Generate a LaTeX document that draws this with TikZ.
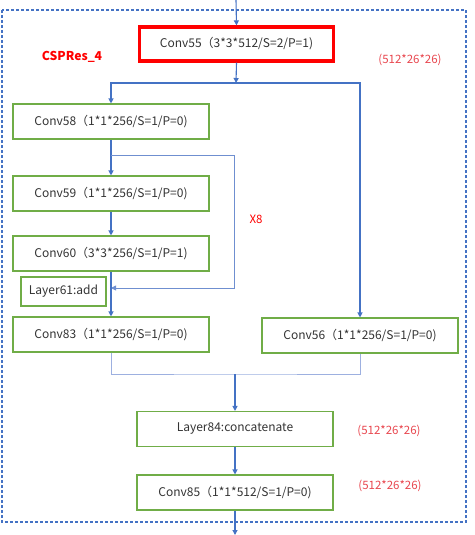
\documentclass[tikz,border=0pt]{standalone}
\usepackage{fontspec}
\setmainfont{Noto Sans CJK SC}
\usetikzlibrary{arrows.meta}
\definecolor{arblue}{HTML}{4472C4}
\definecolor{loopblue}{HTML}{6F8FD0}
\definecolor{mergeblue}{HTML}{9DB0E0}
\definecolor{boxgreen}{HTML}{70AD47}
\definecolor{redlab}{HTML}{E8474F}
\tikzset{
  blk/.style={draw=boxgreen, line width=1.1pt, minimum width=196pt, minimum height=35pt, inner sep=0pt, font=\fontsize{12}{14}\selectfont, text=black!80},
  redblk/.style={draw=red, line width=3.2pt, minimum width=194pt, minimum height=34pt, inner sep=0pt, font=\fontsize{12}{14}\selectfont, text=black!80},
  smallblk/.style={draw=boxgreen, line width=1.1pt, minimum width=85pt, minimum height=29pt, inner sep=0pt, font=\fontsize{12}{14}\selectfont, text=black!80},
  arr/.style={draw=arblue, line width=1.1pt, -{Triangle[width=5pt,length=5pt]}},
  loopln/.style={draw=loopblue, line width=0.9pt},
  mergeln/.style={draw=mergeblue, line width=0.9pt},
  frame/.style={draw=arblue, line width=1.1pt, dash pattern=on 3pt off 2pt},
  dimlab/.style={text=redlab, font=\fontsize{11.5}{13}\selectfont},
}
\begin{document}
\begin{tikzpicture}[x=1pt,y=-1pt]
\useasboundingbox (0,0) rectangle (474,535);
\draw[frame] (2,10) rectangle (466,522);
% nodes
\node[redblk] (c55) at (236.5,44) {Conv55（3*3*512/S=2/P=1)};
\node[blk] (c58) at (111,121.5) {Conv58（1*1*256/S=1/P=0)};
\node[blk] (c59) at (111,193.5) {Conv59（1*1*256/S=1/P=0)};
\node[blk] (c60) at (111,253.5) {Conv60（3*3*256/S=1/P=1)};
\node[smallblk] (add) at (63.5,291.5) {Layer61:add};
\node[blk] (c83) at (111,334.5) {Conv83（1*1*256/S=1/P=0)};
\node[blk] (c56) at (360,335.5) {Conv56（1*1*256/S=1/P=0)};
\node[blk] (c84) at (235,429) {Layer84:concatenate};
\node[blk] (c85) at (235,492.5) {Conv85（1*1*512/S=1/P=0)};
% labels
\node[text=red, font=\bfseries\fontsize{12.2}{14}\selectfont] (csp) at (72,57) {CSPRes\_4};
\node[dimlab] (d1) at (410,60) {(512*26*26)};
\node[text=red, font=\fontsize{11.5}{13}\selectfont] (x8) at (256,219) {X8};
\node[dimlab] (d2) at (389,431) {(512*26*26)};
\node[dimlab] (d3) at (390,486) {(512*26*26)};
% coordinates
\coordinate (top) at (236,0);
\coordinate (j1) at (236,83);
\coordinate (b1) at (111,155);
\coordinate (r1) at (234,155);
\coordinate (j2) at (111,288);
\coordinate (m) at (235,374);
\coordinate (bot) at (235,535);
% connectors
\draw[arr] (top) -- (c55.north);
\draw[arr] (c55.south) -- (j1);
\draw[arr] (j1) -| (c58.north);
\draw[arr] (j1) -| (c56.north);
\draw[arr] (c58.south) -- (c59.north);
\draw[loopln] (b1) -- (r1);
\draw[arr, draw=loopblue, line width=0.9pt] (r1) |- (j2);
\draw[arr] (c59.south) -- (c60.north);
\draw[arr] (c60.south) -- (c83.north);
\draw[mergeln] (c83.south) |- (m) -| (c56.south);
\draw[arr] (m) -- (c84.north);
\draw[arr] (c84.south) -- (c85.north);
\draw[arr] (c85.south) -- (bot);
\end{tikzpicture}
\end{document}
